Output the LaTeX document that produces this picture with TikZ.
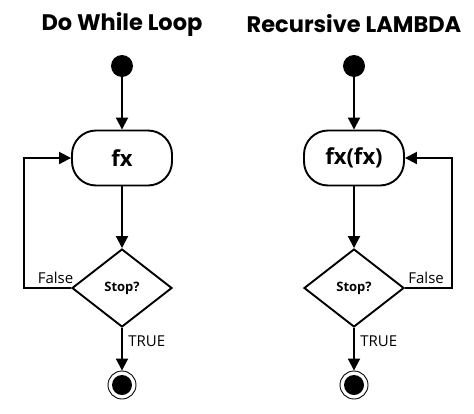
\documentclass[tikz,border=0pt]{standalone}
\usepackage{fontspec}
\setmainfont{Open Sans}
\newfontfamily\headfont{Poppins}
\usetikzlibrary{shapes,arrows.meta,positioning}

\tikzset{
  flow/.style={line width=1.9pt, -{Triangle[length=12pt,width=12pt]}},
  title/.style={font=\headfont\bfseries\fontsize{22.5}{26}\selectfont},
  action/.style={draw, line width=1.9pt, rectangle, rounded corners=24pt,
    minimum width=100pt, minimum height=55pt, inner sep=0pt,
    font=\bfseries\fontsize{22}{26}\selectfont},
  decision/.style={draw, line width=1.9pt, diamond, minimum width=100pt,
    minimum height=78pt, inner sep=0pt, font=\bfseries\fontsize{13}{15}\selectfont},
  startdot/.style={circle, fill=black, minimum size=22pt, inner sep=0pt},
  enddot/.style={circle, draw, line width=0.9pt, minimum size=28pt, inner sep=0pt},
  lbl/.style={font=\fontsize{15}{17}\selectfont}
}

\begin{document}
\begin{tikzpicture}[x=1pt, y=-1pt]
  \useasboundingbox (0,0) rectangle (474,413);

  % Titles
  \node[title] (titleA) at (122,24) {Do While Loop};
  \node[title] (titleB) at (354,24) {Recursive LAMBDA};

  % Do While Loop
  \node[startdot] (startA) at (122,66) {};
  \node[action] (fxA) at (122,158) {fx};
  \node[decision] (stopA) at (122,288) {Stop?};
  \node[enddot] (endA) at (122,385) {};
  \fill (endA.center) circle (10);

  \draw[flow] (startA) -- (fxA);
  \draw[flow] (fxA) -- (stopA);
  \draw[flow] (stopA) -- node[lbl, right, pos=0.3, xshift=2pt] {TRUE} (endA);
  \draw[flow] (stopA.west) -- node[lbl, above, pos=0.33] {False} ++(-47,0) |- (fxA.west);

  % Recursive LAMBDA
  \node[startdot] (startB) at (354,66) {};
  \node[action] (fxB) at (354,158) {fx(fx)};
  \node[decision] (stopB) at (354,288) {Stop?};
  \node[enddot] (endB) at (354,385) {};
  \fill (endB.center) circle (10);

  \draw[flow] (startB) -- (fxB);
  \draw[flow] (fxB) -- (stopB);
  \draw[flow] (stopB) -- node[lbl, right, pos=0.3, xshift=2pt] {TRUE} (endB);
  \draw[flow] (stopB.east) -- node[lbl, above, pos=0.45] {False} ++(47,0) |- (fxB.east);
\end{tikzpicture}
\end{document}
